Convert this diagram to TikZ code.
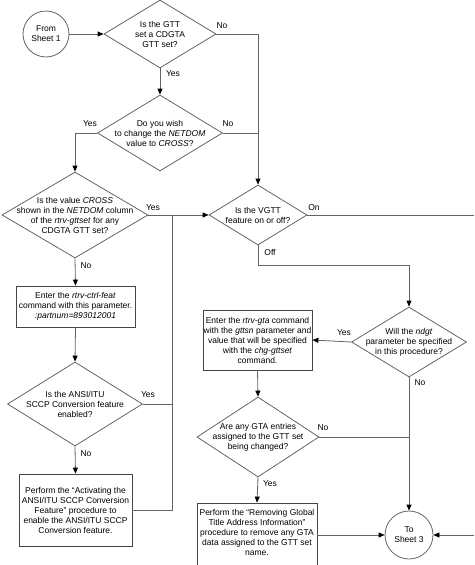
\documentclass[tikz,border=0pt]{standalone}
\usepackage{fontspec}
\setmainfont{Liberation Sans}
\usetikzlibrary{shapes.geometric,arrows.meta}
\definecolor{ln}{RGB}{100,100,100}
\definecolor{bx}{RGB}{70,70,70}
\tikzset{
  txt/.style={align=center,inner sep=0pt,font=\fontsize{8.5}{10}\selectfont},
  lbl/.style={inner sep=0pt,font=\fontsize{8.5}{10}\selectfont},
  dia/.style={diamond,draw=ln,line width=0.8pt,inner sep=0pt},
  stepbox/.style={rectangle,draw=bx,line width=0.8pt,inner sep=0pt,align=center,font=\fontsize{8.5}{10}\selectfont},
  conn/.style={circle,draw=ln,line width=0.8pt,inner sep=0pt,minimum size=#1,align=center,font=\fontsize{8.5}{10}\selectfont},
  wire/.style={draw=ln,line width=0.8pt},
  arr/.style={wire,-{Triangle[length=6pt,width=5pt,color=black]}}
}
\begin{document}
\begin{tikzpicture}[x=1pt,y=-1pt]
\useasboundingbox (0,0) rectangle (474,565);
\clip (0,0) rectangle (474,565);
% start/end connectors
\node[conn=46pt] (fs1) at (46,34) {From\\Sheet 1};
\node[conn=48pt] (ts3) at (409,535) {To\\Sheet 3};
% diamonds
\node[dia,minimum width=112pt,minimum height=68pt] (d1) at (160,34) {};
\node[txt] at (d1) {Is the GTT\\set a CDGTA\\GTT set?};
\node[dia,minimum width=125pt,minimum height=76pt] (d2) at (160,133) {};
\node[txt] at (d2) {Do you wish\\to change the \textit{NETDOM}\\value to \textit{CROSS}?};
\node[dia,minimum width=146pt,minimum height=86pt] (d3) at (75,215) {};
\node[txt] at (d3) {Is the value \textit{CROSS}\\shown in the \textit{NETDOM} column\\of the \textit{rtrv-gttset} for any\\CDGTA GTT set?};
\node[dia,minimum width=135pt,minimum height=84pt] (an) at (75,404) {};
\node[txt] at (an) {Is the ANSI/ITU\\SCCP Conversion feature\\enabled?};
\node[dia,minimum width=98pt,minimum height=60pt] (vg) at (258,215) {};
\node[txt] at (vg) {Is the VGTT\\feature on or off?};
\node[dia,minimum width=115pt,minimum height=70pt] (nd) at (409,342) {};
\node[txt] at (nd) {Will the \textit{ndgt}\\parameter be specified\\in this procedure?};
\node[dia,minimum width=122pt,minimum height=80pt] (gta) at (258,437) {};
\node[txt] at (gta) {Are any GTA entries\\assigned to the GTT set\\being changed?};
% boxes
\node[stepbox,minimum width=119pt,minimum height=41pt] (b1) at (75.5,306.5) {Enter the \textit{rtrv-ctrl-feat}\\command with this parameter.\\\textit{:partnum=893012001}};
\node[stepbox,minimum width=113pt,minimum height=72pt] (b2) at (75.5,510) {Perform the ``Activating the\\ANSI/ITU SCCP Conversion\\Feature'' procedure to\\enable the ANSI/ITU SCCP\\Conversion feature.};
\node[stepbox,minimum width=109pt,minimum height=60pt] (b3) at (257.5,340) {Enter the \textit{rtrv-gta} command\\with the \textit{gttsn} parameter and\\value that will be specified\\with the \textit{chg-gttset}\\command.};
\node[stepbox,minimum width=120pt,minimum height=64pt] (b4) at (257,535) {};
\node[txt] at (257,532.5) {Perform the ``Removing Global\\Title Address Information''\\procedure to remove any GTA\\data assigned to the GTT set\\name.};
% helper coordinates
\coordinate (j1) at (172,215);
\coordinate (c1) at (409,265);
\coordinate (eOn) at (474,215);
\coordinate (eTs) at (474,535);
% connectors
\draw[arr] (fs1.east) -- (d1.west);
\draw[arr] (d1.east) -| (vg.north);
\draw[arr] (d1.south) -- (d2.north);
\draw[wire] (d2.east) -- (d2.east -| vg.north);
\draw[arr] (d2.west) -| (d3.north);
\draw[arr] (d3.east) -- (vg.west);
\draw[arr] (d3.south) -- (b1.north);
\draw[arr] (b1.south) -- (an.north);
\draw[arr] (an.south) -- (b2.north);
\draw[wire] (an.east) -- (an.east -| j1);
\draw[wire] (b2.east) -| (j1);
\draw[wire] (vg.east) -- (eOn);
\draw[arr] (vg.south) |- (c1) -- (nd.north);
\draw[arr] (nd.west) -- (b3.east);
\draw[arr] (nd.south) -- (ts3.north);
\draw[arr] (b3.south) -- (gta.north);
\draw[wire] (gta.east) -- (gta.east -| nd.south);
\draw[arr] (gta.south) -- (b4.north);
\draw[arr] (b4.east) -- (ts3.west);
\draw[arr] (eTs) -- (ts3.east);
% labels
\node[lbl] at (222,26) {No};
\node[lbl] at (173,74) {Yes};
\node[lbl] at (90,124) {Yes};
\node[lbl] at (228,124) {No};
\node[lbl] at (153,208) {Yes};
\node[lbl] at (86,266) {No};
\node[lbl] at (148,395) {Yes};
\node[lbl] at (86,454) {No};
\node[lbl] at (314,208) {On};
\node[lbl] at (270,252) {Off};
\node[lbl] at (344,333) {Yes};
\node[lbl] at (420,383) {No};
\node[lbl] at (323,428) {No};
\node[lbl] at (270,484) {Yes};
\end{tikzpicture}
\end{document}
